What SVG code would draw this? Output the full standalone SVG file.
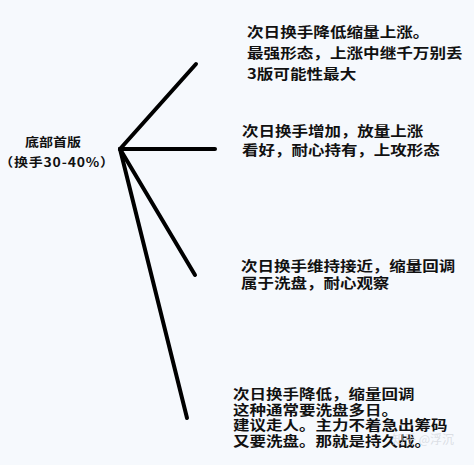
<svg xmlns="http://www.w3.org/2000/svg" width="474" height="465" viewBox="0 0 474 465">
<style>
.t{font-family:"Noto Sans CJK SC","Noto Sans",sans-serif;font-weight:bold;fill:#111}
.l{stroke:#000;stroke-width:4;stroke-linecap:round;fill:none}
</style>
<rect width="474" height="465" fill="#f6f9fd"/>
<g id="root">
<text class="t" font-size="14" text-anchor="middle" transform="matrix(1,0,0,0.88,0,147)"><tspan x="53" y="0">底部首版</tspan><tspan x="57" y="22.7" letter-spacing="0.8">（换手30-40%）</tspan></text>
</g>
<g id="connectors">
<line class="l" x1="120" y1="149" x2="196" y2="64"/>
<line class="l" x1="120" y1="149" x2="215" y2="149"/>
<line class="l" x1="120" y1="149" x2="195" y2="275"/>
<line class="l" x1="120" y1="149" x2="187" y2="418"/>
</g>
<g id="n1">
<text class="t" font-size="16.6" transform="matrix(1,0,0,0.85,0,37)"><tspan x="247" y="0">次日换手降低缩量上涨。</tspan><tspan x="247" y="24.7">最强形态，上涨中继千万别丢</tspan><tspan x="247" y="49.4">3版可能性最大</tspan></text>
</g>
<g id="n2">
<text class="t" font-size="16.5" transform="matrix(1,0,0,0.85,0,136)"><tspan x="242" y="0">次日换手增加，放量上涨</tspan><tspan x="242" y="22.4">看好，耐心持有，上攻形态</tspan></text>
</g>
<g id="n3">
<text class="t" font-size="16.5" transform="matrix(1,0,0,0.85,0,271)"><tspan x="241" y="0">次日换手维持接近，缩量回调</tspan><tspan x="241" y="20">属于洗盘，耐心观察</tspan></text>
</g>
<g id="n4">
<text class="t" font-size="16.5" transform="matrix(1,0,0,0.8,0,399)"><tspan x="233" y="0">次日换手降低，缩量回调</tspan><tspan x="233" y="19.5">这种通常要洗盘多日。</tspan><tspan x="233" y="39">建议走人。主力不着急出筹码</tspan><tspan x="233" y="58.5">又要洗盘。那就是持久战。</tspan></text>
</g>
<text x="392" y="444" font-family="'Noto Sans CJK SC',sans-serif" font-size="12" fill="#cfd3d9" fill-opacity="0.7">知乎 @浮沉</text>
</svg>
